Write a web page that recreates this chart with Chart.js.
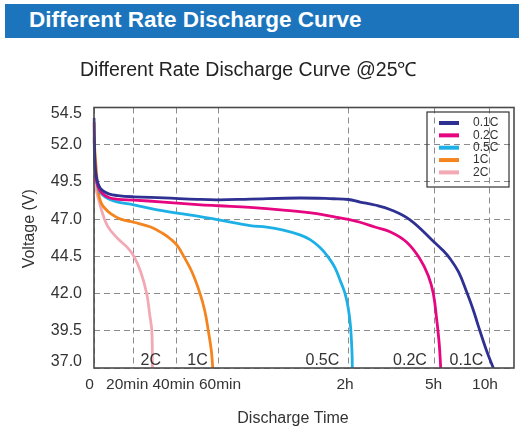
<!DOCTYPE html>
<html><head><meta charset="utf-8">
<script src="https://cdn.jsdelivr.net/npm/chart.js@4/dist/chart.umd.min.js"></script>
<style>
html,body{margin:0;padding:0;background:#fff;width:528px;height:431px;overflow:hidden}
#banner{position:absolute;left:5px;top:4px;width:514px;height:34px;background:#1c75bc;color:#fff;font:bold 22.5px "Liberation Sans",Arial,sans-serif;line-height:31px;padding-left:24px;box-sizing:border-box;white-space:nowrap}
#sub{position:absolute;left:80px;top:59.5px;color:#222;font:19.5px "Liberation Sans",Arial,sans-serif;line-height:19.5px;white-space:nowrap}
#c{position:absolute;left:0;top:0}
</style></head><body>
<canvas id="c" width="528" height="431"></canvas>
<div id="banner">Different Rate Discharge Curve</div>
<div id="sub">Different Rate Discharge Curve @25℃</div>
<script>
// ---- data (time in minutes, voltage in V) ----
const SERIES_NAMES = ['0.1C', '0.2C', '0.5C', '1C', '2C'];
const T_01C = [0, 0.3, 0.8, 2, 4, 7.4, 12, 20, 34, 50, 60, 74.5, 97.6, 113.1, 120, 144.3, 175, 206.6, 248.1, 298.5, 340, 382.9, 430, 475.1, 510, 539.2, 585.6, 619.4];
const V_01C = [53.8, 51.5, 50.2, 49.4, 48.95, 48.7, 48.58, 48.5, 48.43, 48.33, 48.3, 48.35, 48.42, 48.37, 48.32, 48.15, 47.95, 47.65, 46.95, 45.45, 44.95, 44.35, 43.45, 42.1, 40.95, 39.83, 38.14, 37.0];
const T_02C = [0, 0.3, 0.8, 2, 4, 7.4, 12, 20, 34, 50, 60, 74.5, 89.9, 105.4, 114.6, 120, 144.3, 175, 206.6, 241.3, 268.9, 286.1, 296.5, 309.4, 323.8, 331.5];
const V_02C = [53.5, 51.2, 50.0, 49.2, 48.75, 48.45, 48.33, 48.28, 48.15, 47.98, 47.9, 47.79, 47.61, 47.37, 47.12, 46.98, 46.79, 46.47, 46.15, 45.45, 44.33, 43.2, 42.0, 40.26, 38.56, 37.0];
const T_05C = [0, 0.3, 0.8, 2.3, 4.5, 7.4, 12, 20, 34, 50, 60, 74.5, 82.2, 89.9, 97.6, 102.3, 106.9, 110.7, 113.8, 116.1, 118.5, 120, 124.6, 127.7, 128.3];
const V_05C = [52.5, 51.0, 50.0, 49.0, 48.6, 48.35, 48.15, 47.96, 47.55, 47.2, 46.95, 46.57, 46.47, 46.26, 45.94, 45.62, 45.09, 44.45, 43.75, 42.93, 42.0, 41.0, 39.8, 38.0, 37.0];
const T_1C = [0, 0.6, 1.4, 2.3, 3.4, 5, 8.4, 13.4, 20.1, 28.0, 33.5, 37, 40.3, 43.5, 47.4, 51.2, 53.5, 55.1, 56.5, 57.2];
const V_1C = [52.3, 51.3, 49.9, 48.75, 48.15, 47.8, 47.37, 47.0, 46.79, 46.47, 46.05, 45.7, 45.25, 44.5, 43.45, 42.0, 40.8, 39.5, 38.2, 37.0];
const T_2C = [0, 0.86, 3.4, 6.7, 11.7, 16.8, 20.1, 23.2, 26.1, 27.5, 28.5, 28.8];
const V_2C = [50.0, 49.13, 47.79, 46.57, 45.73, 45.1, 44.5, 43.5, 42.0, 40.6, 39.5, 37.0];
const END_LABEL_T = [474, 248, 108, 50, 28]; // where the rate labels sit on the time axis

// ---- axes ----
const X_TICKS = [0, 20, 40, 60, 120, 300, 600];
const X_TICK_LABELS = ['0', '20min', '40min', '60min', '2h', '5h', '10h'];
const X_KNOTS = [0, 20, 40, 60, 120, 300, 600, 720];          // non-uniform (drawn) time axis
const X_KNOT_FRAC = [0, 0.0945, 0.196, 0.2969, 0.6055, 0.8119, 0.9412, 1];
const X_LABEL_NUDGE = [-4.5, -6.5, -2.8, 1.3, -3.3, -1.5, -4.3]; // label placement as drawn
const Y_TICKS = [37, 39.5, 42, 44.5, 47, 49.5, 52, 54.5];

const COLORS = ['#2e3192', '#e6067f', '#1cb0e6', '#f5841f', '#f3a9b3'];
const FONT = '"Liberation Sans", Arial, sans-serif';

function warp(v) {
  if (v <= X_KNOTS[0]) return X_KNOT_FRAC[0];
  for (let i = 1; i < X_KNOTS.length; i++) {
    if (v <= X_KNOTS[i]) {
      const r = (v - X_KNOTS[i - 1]) / (X_KNOTS[i] - X_KNOTS[i - 1]);
      return X_KNOT_FRAC[i - 1] + r * (X_KNOT_FRAC[i] - X_KNOT_FRAC[i - 1]);
    }
  }
  return 1;
}
function unwarp(f) {
  for (let i = 1; i < X_KNOT_FRAC.length; i++) {
    if (f <= X_KNOT_FRAC[i]) {
      const r = (f - X_KNOT_FRAC[i - 1]) / (X_KNOT_FRAC[i] - X_KNOT_FRAC[i - 1]);
      return X_KNOTS[i - 1] + r * (X_KNOTS[i] - X_KNOTS[i - 1]);
    }
  }
  return X_KNOTS[X_KNOTS.length - 1];
}

class WarpScale extends Chart.LinearScale {
  static id = 'warp';
  static defaults = {};
  determineDataLimits() { this.min = X_KNOTS[0]; this.max = X_KNOTS[X_KNOTS.length - 1]; }
  buildTicks() { return X_TICKS.map(v => ({ value: v })); }
  getPixelForValue(v) { return (v === null || v === undefined) ? NaN : this.getPixelForDecimal(warp(v)); }
  getValueForPixel(p) { return unwarp(this.getDecimalForPixel(p)); }
  _computeLabelItems(chartArea) {
    const items = super._computeLabelItems(chartArea);
    (items || []).forEach((it, i) => {
      const tr = it.options && it.options.translation;
      if (tr) tr[0] += X_LABEL_NUDGE[i] || 0;
    });
    return items;
  }
  drawTitle() {
    const ctx = this.ctx;
    ctx.save();
    ctx.translate(-11, 0);
    super.drawTitle();
    ctx.restore();
  }
}
// value axis whose end labels sit just inside the frame, as in the original
class InsetLinearScale extends Chart.LinearScale {
  static id = 'insetLinear';
  static defaults = {};
  _computeLabelItems(chartArea) {
    const items = super._computeLabelItems(chartArea);
    if (items && items.length > 1) {
      const a = items[0].options && items[0].options.translation;
      const b = items[items.length - 1].options && items[items.length - 1].options.translation;
      if (a) a[1] -= 6;
      if (b) b[1] += 6;
    }
    return items;
  }
  drawTitle() {
    const ctx = this.ctx;
    ctx.save();
    ctx.translate(0, -9);
    super.drawTitle();
    ctx.restore();
  }
}
Chart.register(WarpScale, InsetLinearScale);

const SERIES = [[T_01C, V_01C], [T_02C, V_02C], [T_05C, V_05C], [T_1C, V_1C], [T_2C, V_2C]];
const datasets = SERIES.map(([t, v], i) => ({
  label: SERIES_NAMES[i],
  data: t.map((x, k) => ({ x: x, y: v[k] })),
  borderColor: COLORS[i],
  backgroundColor: COLORS[i],
  borderWidth: 2.8,
  pointRadius: 0,
  fill: false,
  tension: 0.4
}));

const overlay = {
  id: 'overlay',
  afterDatasetsDraw(chart) {
    const { ctx, chartArea: a, scales: { x } } = chart;
    ctx.save();
    ctx.strokeStyle = '#4a4a4a';
    ctx.lineWidth = 1.6;
    ctx.strokeRect(a.left, a.top, a.right - a.left, a.bottom - a.top);
    // rate labels at curve ends
    ctx.font = '16px ' + FONT;
    ctx.fillStyle = '#333';
    ctx.textAlign = 'center';
    ctx.textBaseline = 'middle';
    SERIES_NAMES.forEach((n, i) => ctx.fillText(n, x.getPixelForValue(END_LABEL_T[i]), a.bottom - 7.5));
    // legend box
    const bx = a.right - 87, by = a.top + 4.5, bw = 82, bh = 75;
    ctx.strokeStyle = '#333';
    ctx.lineWidth = 1.2;
    ctx.strokeRect(bx, by, bw, bh);
    ctx.font = '12px ' + FONT;
    ctx.textAlign = 'left';
    SERIES_NAMES.forEach((n, i) => {
      const yy = by + 11 + i * 12.35;
      ctx.strokeStyle = COLORS[i];
      ctx.lineWidth = 4;
      ctx.beginPath();
      ctx.moveTo(bx + 12, yy);
      ctx.lineTo(bx + 32, yy);
      ctx.stroke();
      ctx.fillStyle = '#333';
      ctx.fillText(n, bx + 46, yy);
    });
    ctx.restore();
  }
};

Chart.defaults.font.family = FONT;

new Chart(document.getElementById('c'), {
  type: 'line',
  data: { datasets },
  options: {
    responsive: false,
    animation: false,
    layout: { padding: { top: 107.5, left: 0, right: 14, bottom: 0 } },
    plugins: {
      legend: { display: false },
      tooltip: { enabled: false },
      title: { display: false }
    },
    scales: {
      x: {
        type: 'warp',
        position: 'bottom',
        afterFit: s => { s.height = 63; },
        grid: { color: '#8c8c8c', lineWidth: 1, drawTicks: false },
        border: { display: false, dash: [6, 4] },
        ticks: {
          autoSkip: false, maxRotation: 0, padding: 7, color: '#333',
          font: { size: 15.5 },
          callback: v => X_TICK_LABELS[X_TICKS.indexOf(v)]
        },
        title: { display: true, text: 'Discharge Time', color: '#333', font: { size: 16 }, padding: { top: 0, bottom: 3 } }
      },
      y: {
        type: 'insetLinear',
        position: 'left',
        min: Y_TICKS[0], max: Y_TICKS[Y_TICKS.length - 1],
        afterFit: s => { s.width = 94; },
        afterBuildTicks: s => { s.ticks = Y_TICKS.map(v => ({ value: v })); },
        grid: { color: '#8c8c8c', lineWidth: 1, drawTicks: false },
        border: { display: false, dash: [6, 4] },
        ticks: { padding: 12, color: '#333', font: { size: 16 }, callback: v => Number(v).toFixed(1) },
        title: { display: true, text: 'Voltage (V)', color: '#333', font: { size: 16 }, padding: { top: 20, bottom: 0 } }
      }
    }
  },
  plugins: [overlay]
});
</script></body></html>
